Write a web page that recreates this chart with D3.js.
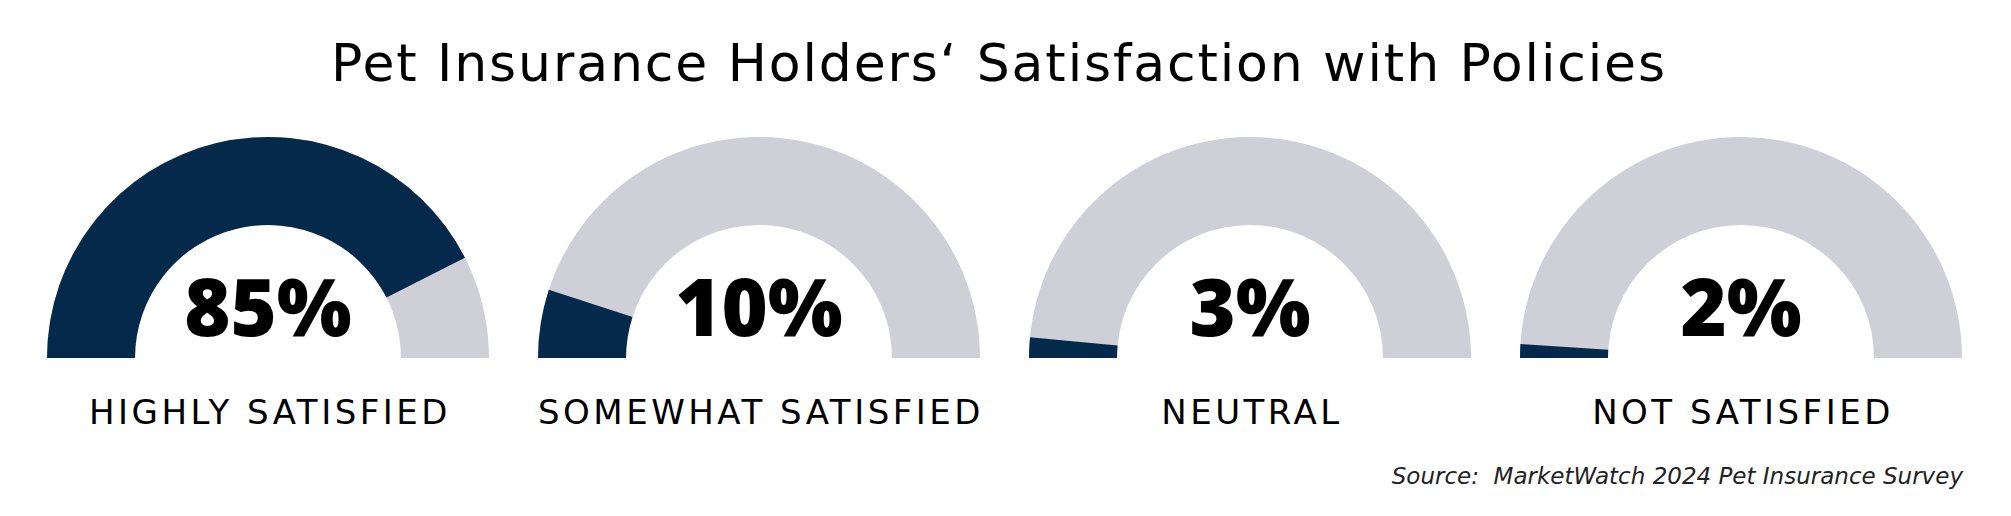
<!DOCTYPE html>
<html>
<head>
<meta charset="utf-8">
<script src="https://cdn.jsdelivr.net/npm/d3@7"></script>
<style>
  body { margin: 0; background: #fff; }
  text { font-family: "DejaVu Sans", sans-serif; fill: #000; }
</style>
</head>
<body>
<div id="chart"></div>
<script>
// chart data
const categories = ["HIGHLY SATISFIED", "SOMEWHAT SATISFIED", "NEUTRAL", "NOT SATISFIED"];
const percents = [85, 10, 3, 2];
const title = "Pet Insurance Holders\u2018 Satisfaction with Policies";
const source = "Source:  MarketWatch 2024 Pet Insurance Survey";

const width = 2011, height = 516;
const outerR = 221, innerR = 133, baseY = 358;

const svg = d3.select("#chart")
    .append("svg")
    .attr("width", width)
    .attr("height", height);

// one gauge per category
const xPos = d3.scalePoint()
    .domain(categories)
    .range([268, 1741]);

// percent -> angle along the half ring
const angle = d3.scaleLinear()
    .domain([0, 100])
    .range([-Math.PI / 2, Math.PI / 2]);

const arc = d3.arc()
    .innerRadius(innerR)
    .outerRadius(outerR);

// title
svg.append("text")
    .attr("x", 999)
    .attr("y", 81)
    .attr("text-anchor", "middle")
    .style("font-size", "52px")
    .style("letter-spacing", "1.9px")
    .text(title);

const gauges = svg.selectAll("g.gauge")
    .data(categories.map((c, i) => ({ label: c, value: percents[i] })))
    .enter()
    .append("g")
    .attr("class", "gauge")
    .attr("transform", d => "translate(" + xPos(d.label) + "," + baseY + ")");

// grey background ring
gauges.append("path")
    .attr("d", arc({ startAngle: angle(0), endAngle: angle(100) }))
    .style("fill", "#cfd0d7");

// filled part
gauges.append("path")
    .attr("d", d => arc({ startAngle: angle(0), endAngle: angle(d.value) }))
    .style("fill", "#05294b");

// big percent
gauges.append("text")
    .attr("x", 0)
    .attr("y", -22)
    .attr("text-anchor", "middle")
    .style("font-family", "'Open Sans', sans-serif")
    .style("font-size", "79px")
    .style("font-weight", "800")
    .text(d => d.value + "%");

// category label
gauges.append("text")
    .attr("x", 2)
    .attr("y", 66)
    .attr("text-anchor", "middle")
    .style("font-size", "34px")
    .style("letter-spacing", "3.5px")
    .text(d => d.label);

// source note
svg.append("text")
    .attr("x", 1963)
    .attr("y", 484)
    .attr("text-anchor", "end")
    .style("font-size", "23px")
    .style("font-style", "italic")
    .style("white-space", "pre")
    .style("fill", "#222")
    .text(source);
</script>
</body>
</html>
